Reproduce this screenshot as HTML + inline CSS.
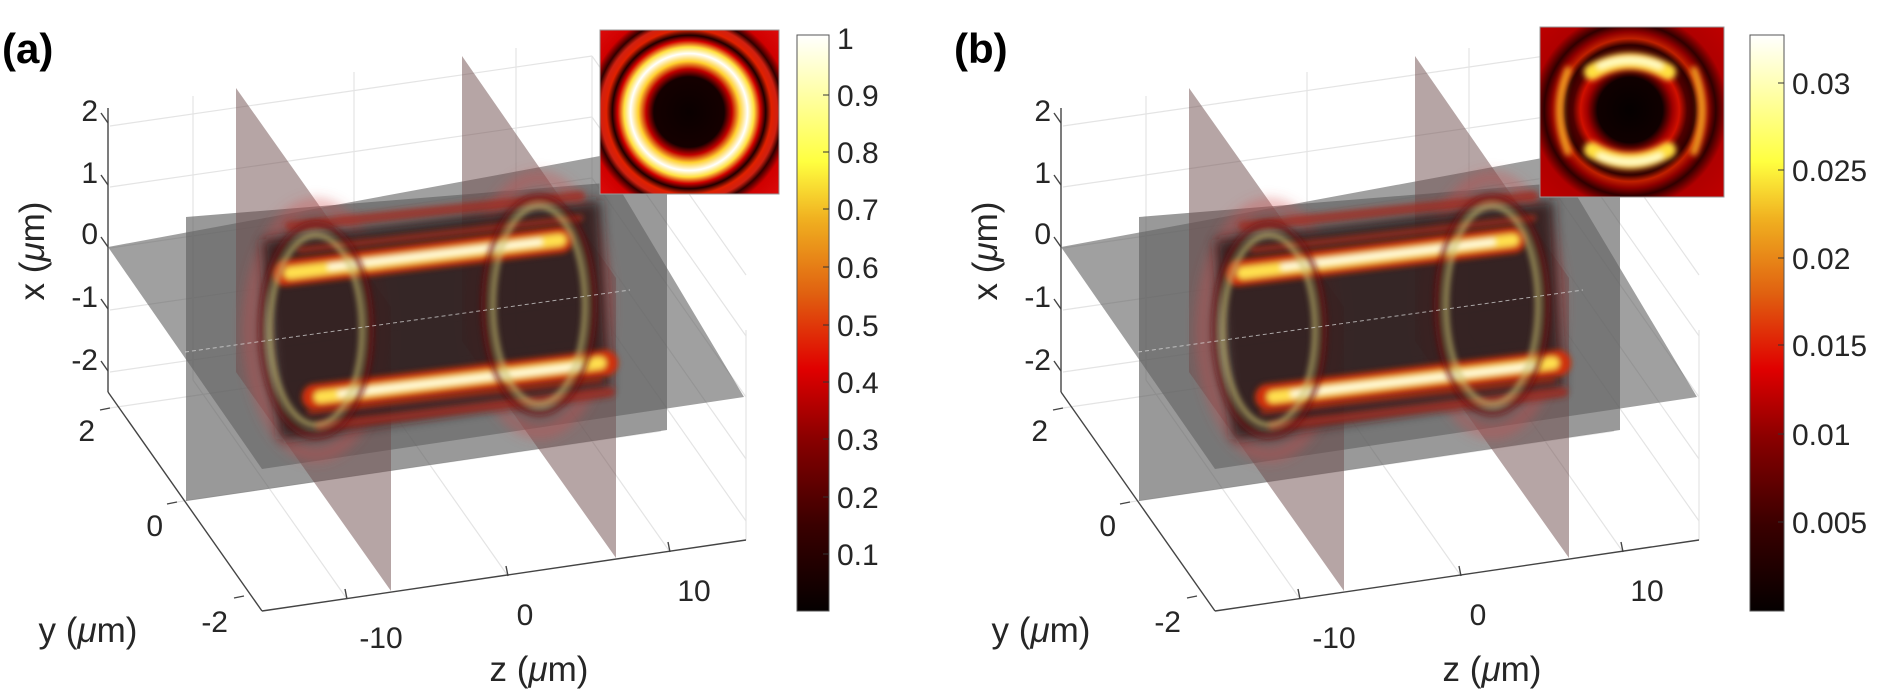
<!DOCTYPE html>
<html><head><meta charset="utf-8"><style>
html,body{margin:0;padding:0;background:#fff;}
svg{display:block;}
text{font-family:"Liberation Sans",sans-serif;fill:#262626;}
</style></head><body>
<svg width="1888" height="695" viewBox="0 0 1888 695" xmlns="http://www.w3.org/2000/svg">
<defs>
<filter id="b3" x="-30%" y="-30%" width="160%" height="160%"><feGaussianBlur stdDeviation="3"/></filter>
<filter id="b6" x="-30%" y="-30%" width="160%" height="160%"><feGaussianBlur stdDeviation="6"/></filter>
<linearGradient id="cb" x1="0" y1="1" x2="0" y2="0">
<stop offset="0" stop-color="#050000"/><stop offset="0.15" stop-color="#3a0000"/>
<stop offset="0.3" stop-color="#8a0000"/><stop offset="0.42" stop-color="#e00000"/>
<stop offset="0.55" stop-color="#e06010"/><stop offset="0.68" stop-color="#f0b020"/>
<stop offset="0.78" stop-color="#ffff40"/><stop offset="0.9" stop-color="#ffffa8"/>
<stop offset="1" stop-color="#ffffff"/></linearGradient>
<radialGradient id="ra" gradientUnits="userSpaceOnUse" cx="689" cy="112" r="130">
<stop offset="0" stop-color="#0a0000"/><stop offset="0.27" stop-color="#150000"/>
<stop offset="0.33" stop-color="#c00000"/><stop offset="0.39" stop-color="#ffd030"/>
<stop offset="0.45" stop-color="#ffffff"/><stop offset="0.5" stop-color="#ffe040"/>
<stop offset="0.55" stop-color="#d00000"/><stop offset="0.59" stop-color="#200000"/>
<stop offset="0.635" stop-color="#e02000"/><stop offset="0.68" stop-color="#d02010"/>
<stop offset="0.72" stop-color="#300000"/><stop offset="0.78" stop-color="#d00000"/>
<stop offset="1" stop-color="#e01010"/></radialGradient>
<radialGradient id="rb" gradientUnits="userSpaceOnUse" cx="1630" cy="110" r="130">
<stop offset="0" stop-color="#050000"/><stop offset="0.25" stop-color="#100000"/>
<stop offset="0.33" stop-color="#a00000"/><stop offset="0.38" stop-color="#d01000"/>
<stop offset="0.44" stop-color="#500000"/><stop offset="0.5" stop-color="#300000"/>
<stop offset="0.55" stop-color="#c02000"/><stop offset="0.6" stop-color="#900000"/>
<stop offset="0.66" stop-color="#300000"/><stop offset="0.75" stop-color="#b00000"/>
<stop offset="1" stop-color="#c00000"/></radialGradient>
<g id="scene">
<g stroke="#e4e4e4" stroke-width="1.2" fill="none">
<line x1="110" y1="126" x2="592" y2="56"/><line x1="110" y1="187" x2="592" y2="117"/>
<line x1="110" y1="248" x2="592" y2="178"/><line x1="110" y1="310" x2="592" y2="240"/>
<line x1="110" y1="372" x2="592" y2="302"/>
<line x1="592" y1="56" x2="746" y2="275"/><line x1="592" y1="117" x2="746" y2="336"/>
<line x1="592" y1="178" x2="746" y2="397"/><line x1="592" y1="240" x2="746" y2="459"/>
<line x1="592" y1="302" x2="746" y2="521"/>
<line x1="193" y1="96" x2="193" y2="380"/><line x1="354" y1="72" x2="354" y2="357"/>
<line x1="516" y1="48" x2="516" y2="333"/>
<line x1="193" y1="380" x2="347" y2="599"/><line x1="354" y1="357" x2="508" y2="576"/>
<line x1="516" y1="333" x2="670" y2="552"/>
<line x1="110" y1="408" x2="594" y2="337"/><line x1="177" y1="502" x2="661" y2="431"/>
<line x1="592" y1="321" x2="592" y2="56"/><line x1="746" y1="540" x2="746" y2="330"/>
</g>
<g stroke="#444" stroke-width="1.4" fill="none">
<line x1="108" y1="108" x2="108" y2="392"/>
<line x1="108" y1="392" x2="262" y2="611"/>
<line x1="262" y1="611" x2="746" y2="540"/>
<line x1="108" y1="123" x2="101" y2="113"/><line x1="108" y1="185" x2="101" y2="175"/>
<line x1="108" y1="247" x2="101" y2="237"/><line x1="108" y1="309" x2="101" y2="299"/>
<line x1="108" y1="371" x2="101" y2="361"/>
<line x1="110" y1="408" x2="100" y2="410"/><line x1="177" y1="502" x2="167" y2="504"/>
<line x1="244" y1="596" x2="234" y2="598"/>
<line x1="347" y1="599" x2="345" y2="589"/><line x1="508" y1="576" x2="506" y2="566"/>
<line x1="670" y1="552" x2="668" y2="542"/>
</g>
<polygon points="186,217 667,178 667,430 186,501" fill="#5a5a5a" fill-opacity="0.62"/>
<polygon points="108,247 600,156 744,397 262,469" fill="#606060" fill-opacity="0.6"/>
<!-- z-planes -->
<polygon points="236,88 391,307 391,591 236,372" fill="#6e4c4c" fill-opacity="0.5"/>
<polygon points="462,56 616,278 616,558 462,341" fill="#6e4c4c" fill-opacity="0.5"/>
<!-- outer red haze of rings -->
<g fill="none" filter="url(#b6)">
<ellipse cx="316" cy="330" rx="66" ry="125" stroke="#d05050" stroke-width="12" opacity="0.45"/>
<ellipse cx="539" cy="305" rx="66" ry="127" stroke="#d05050" stroke-width="12" opacity="0.45"/>
</g>
<polygon points="262,240 600,200 610,390 280,440" fill="#2a1614" fill-opacity="0.85" filter="url(#b6)"/>
<g filter="url(#b3)" stroke-linecap="round" fill="none">
<line x1="290" y1="226" x2="580" y2="196" stroke="#a02a20" stroke-width="10" opacity="0.8"/>
<line x1="300" y1="250" x2="580" y2="218" stroke="#b03020" stroke-width="7" opacity="0.7"/>
<line x1="320" y1="426" x2="610" y2="392" stroke="#a02a20" stroke-width="10" opacity="0.8"/>
<line x1="310" y1="412" x2="600" y2="380" stroke="#c03020" stroke-width="6" opacity="0.6"/>
</g>
<g filter="url(#b3)" stroke-linecap="round" fill="none">
<line x1="285" y1="273" x2="560" y2="240" stroke="#d03010" stroke-width="26"/>
<line x1="290" y1="273" x2="560" y2="240" stroke="#ffe050" stroke-width="12"/>
<line x1="330" y1="267" x2="540" y2="242" stroke="#fffff0" stroke-width="5"/>
<line x1="315" y1="397" x2="605" y2="363" stroke="#d03010" stroke-width="26"/>
<line x1="320" y1="397" x2="600" y2="363" stroke="#ffe050" stroke-width="12"/>
<line x1="340" y1="394" x2="580" y2="366" stroke="#fffff0" stroke-width="5"/>
</g>
<g fill="none" filter="url(#b3)">
<ellipse cx="316" cy="330" rx="55" ry="106" stroke="#701010" stroke-width="6" opacity="0.7"/>
<ellipse cx="316" cy="330" rx="46" ry="95" stroke="#c8c070" stroke-width="5" opacity="0.75"/>
<ellipse cx="539" cy="305" rx="55" ry="108" stroke="#701010" stroke-width="6" opacity="0.7"/>
<ellipse cx="539" cy="305" rx="46" ry="99" stroke="#c8c070" stroke-width="5" opacity="0.75"/>
</g>
<line x1="185" y1="352" x2="630" y2="290" stroke="#ddd" stroke-width="1" stroke-dasharray="4,3" opacity="0.7"/>
</g>
</defs>

<use href="#scene"/>
<rect x="600" y="30" width="179" height="164" fill="url(#ra)"/>
<rect x="600" y="30" width="179" height="164" fill="none" stroke="#999" stroke-width="1"/>
<rect x="797" y="35" width="32" height="576" fill="url(#cb)" stroke="#555" stroke-width="1"/>
<g stroke="#333" stroke-width="1">
<line x1="823" y1="95" x2="829" y2="95"/><line x1="823" y1="152" x2="829" y2="152"/>
<line x1="823" y1="209" x2="829" y2="209"/><line x1="823" y1="267" x2="829" y2="267"/>
<line x1="823" y1="325" x2="829" y2="325"/><line x1="823" y1="382" x2="829" y2="382"/>
<line x1="823" y1="439" x2="829" y2="439"/><line x1="823" y1="497" x2="829" y2="497"/>
<line x1="823" y1="554" x2="829" y2="554"/>
</g>
<g font-size="30">
<text x="837" y="49">1</text><text x="837" y="106">0.9</text><text x="837" y="163">0.8</text>
<text x="837" y="220">0.7</text><text x="837" y="278">0.6</text><text x="837" y="336">0.5</text>
<text x="837" y="393">0.4</text><text x="837" y="450">0.3</text><text x="837" y="508">0.2</text>
<text x="837" y="565">0.1</text>
</g>
<g font-size="30" text-anchor="end">
<text x="98" y="121">2</text><text x="98" y="183">1</text><text x="98" y="244">0</text>
<text x="98" y="307">-1</text><text x="98" y="370">-2</text>
<text x="95" y="441">2</text><text x="163" y="536">0</text><text x="228" y="632">-2</text>
</g>
<g font-size="30" text-anchor="middle">
<text x="381" y="648">-10</text><text x="525" y="625">0</text><text x="694" y="601">10</text>
</g>
<text x="539" y="681" font-size="35" text-anchor="middle">z (<tspan font-style="italic">μ</tspan>m)</text>
<text x="88" y="642" font-size="35" text-anchor="middle">y (<tspan font-style="italic">μ</tspan>m)</text>
<text transform="translate(44,251) rotate(-90)" font-size="35" text-anchor="middle">x (<tspan font-style="italic">μ</tspan>m)</text>
<text x="2" y="63" font-size="42" font-weight="bold" style="fill:#000">(a)</text>

<use href="#scene" transform="translate(953,0)"/>
<rect x="1540" y="27" width="184" height="170" fill="url(#rb)"/>
<g filter="url(#b3)" fill="none" stroke-linecap="round">
<path d="M1592,72 Q1630,50 1668,72" stroke="#ffe040" stroke-width="16"/>
<path d="M1600,66 Q1630,54 1660,66" stroke="#ffffd0" stroke-width="6"/>
<path d="M1592,150 Q1630,172 1668,150" stroke="#ffe040" stroke-width="16"/>
<path d="M1600,156 Q1630,168 1660,156" stroke="#ffffd0" stroke-width="6"/>
<path d="M1568,70 Q1552,110 1568,152" stroke="#f0a020" stroke-width="7"/>
<path d="M1694,70 Q1710,110 1694,152" stroke="#f0a020" stroke-width="7"/>
</g>
<rect x="1540" y="27" width="184" height="170" fill="none" stroke="#999" stroke-width="1"/>
<rect x="1750" y="35" width="34" height="576" fill="url(#cb)" stroke="#555" stroke-width="1"/>
<g stroke="#333" stroke-width="1">
<line x1="1778" y1="83" x2="1784" y2="83"/><line x1="1778" y1="170" x2="1784" y2="170"/>
<line x1="1778" y1="258" x2="1784" y2="258"/><line x1="1778" y1="345" x2="1784" y2="345"/>
<line x1="1778" y1="434" x2="1784" y2="434"/><line x1="1778" y1="522" x2="1784" y2="522"/>
</g>
<g font-size="30">
<text x="1792" y="94">0.03</text><text x="1792" y="181">0.025</text><text x="1792" y="269">0.02</text>
<text x="1792" y="356">0.015</text><text x="1792" y="445">0.01</text><text x="1792" y="533">0.005</text>
</g>
<g font-size="30" text-anchor="end">
<text x="1051" y="121">2</text><text x="1051" y="183">1</text><text x="1051" y="244">0</text>
<text x="1051" y="307">-1</text><text x="1051" y="370">-2</text>
<text x="1048" y="441">2</text><text x="1116" y="536">0</text><text x="1181" y="632">-2</text>
</g>
<g font-size="30" text-anchor="middle">
<text x="1334" y="648">-10</text><text x="1478" y="625">0</text><text x="1647" y="601">10</text>
</g>
<text x="1492" y="681" font-size="35" text-anchor="middle">z (<tspan font-style="italic">μ</tspan>m)</text>
<text x="1041" y="642" font-size="35" text-anchor="middle">y (<tspan font-style="italic">μ</tspan>m)</text>
<text transform="translate(997,251) rotate(-90)" font-size="35" text-anchor="middle">x (<tspan font-style="italic">μ</tspan>m)</text>
<text x="954" y="63" font-size="42" font-weight="bold" style="fill:#000">(b)</text>
</svg>
</body></html>
